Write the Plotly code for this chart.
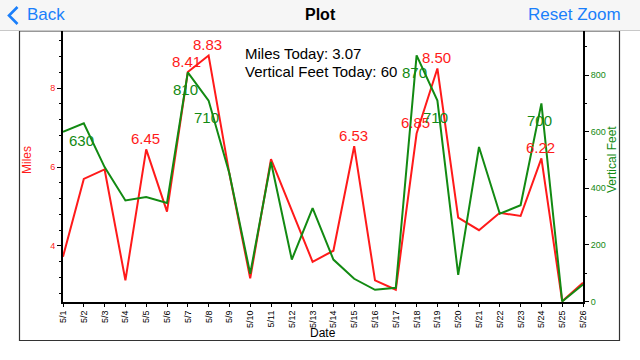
import plotly.graph_objects as go

# ---- data ----
dates = ['5/1', '5/2', '5/3', '5/4', '5/5', '5/6', '5/7', '5/8', '5/9', '5/10',
         '5/11', '5/12', '5/13', '5/14', '5/15', '5/16', '5/17', '5/18', '5/19',
         '5/20', '5/21', '5/22', '5/23', '5/24', '5/25', '5/26']
miles = [3.73, 5.70, 5.94, 3.13, 6.45, 4.87, 8.41, 8.83, 5.83, 3.18,
         6.20, 4.91, 3.60, 3.88, 6.53, 3.13, 2.89, 6.85, 8.50,
         4.72, 4.40, 4.84, 4.76, 6.22, 2.60, 3.07]
feet = [600, 630, 475, 357, 369, 348, 810, 710, 452, 98,
        493, 148, 330, 148, 80, 41, 48, 870, 710,
        94, 546, 310, 340, 700, 0, 60]
miles_labeled = [4, 6, 7, 14, 17, 18, 23]
feet_labeled = [1, 6, 7, 17, 18, 23]

RED = '#ff1a1a'
GREEN = '#128a12'
BLUE = '#1a7ffb'
FONT = 'Liberation Sans, Arial, sans-serif'

W, H = 640, 360
L, R, T, B = 63, 57, 31, 58
PW, PH = W - L - R, H - T - B


def px(x):
    return (x - L) / PW


def py(y):
    return (H - B - y) / PH


xs = list(range(len(dates)))

fig = go.Figure()
fig.add_trace(go.Scatter(x=xs, y=miles, mode='lines', line=dict(color=RED, width=2),
                         yaxis='y', showlegend=False))
fig.add_trace(go.Scatter(x=xs, y=feet, mode='lines', line=dict(color=GREEN, width=2),
                         yaxis='y2', showlegend=False))

ann = []
for i in miles_labeled:
    ann.append(dict(x=xs[i], y=miles[i], xref='x', yref='y', text=f"{miles[i]:.2f}",
                    showarrow=False, yshift=11, xshift=-1, xanchor='center', yanchor='middle',
                    font=dict(color=RED, size=15, family=FONT)))
for i in feet_labeled:
    ann.append(dict(x=xs[i], y=feet[i], xref='x', yref='y2', text=f"{feet[i]}",
                    showarrow=False, yshift=-17, xshift=-2, xanchor='center', yanchor='middle',
                    font=dict(color=GREEN, size=15, family=FONT)))


def paper_text(x, y, text, color, size, xanchor='center', angle=0):
    return dict(x=px(x), y=py(y), xref='paper', yref='paper', text=text,
                xanchor=xanchor, yanchor='middle', textangle=angle, showarrow=False,
                font=dict(color=color, size=size, family=FONT))


ann.append(paper_text(243, 54, f"Miles Today: {miles[-1]:.2f}", 'black', 15, 'left'))
ann.append(paper_text(243, 72, f"Vertical Feet Today: {feet[-1]}", 'black', 15, 'left'))
# axis titles
ann.append(paper_text(27, 160, 'Miles', RED, 12, angle=-90))
ann.append(paper_text(612, 160, 'Vertical Feet', GREEN, 12, angle=-90))
ann.append(paper_text(323, 333, 'Date', 'black', 12))
# nav bar texts
ann.append(paper_text(320, 15, '<b>Plot</b>', 'black', 16))
ann.append(paper_text(25, 15, 'Back', BLUE, 17, 'left'))
ann.append(paper_text(623, 15, 'Reset Zoom', BLUE, 17, 'right'))

shapes = [
    # nav bar
    dict(type='rect', xref='paper', yref='paper', x0=px(0), x1=px(640), y0=py(30.5), y1=py(0),
         fillcolor='#f6f6f6', line=dict(width=0), layer='below'),
    dict(type='line', xref='paper', yref='paper', x0=px(0), x1=px(640), y0=py(30.5), y1=py(30.5),
         line=dict(color='#c8c8c8', width=1)),
    # frame
    dict(type='rect', xref='paper', yref='paper', x0=px(19.5), x1=px(619.5), y0=py(340.5), y1=py(31),
         line=dict(color='#333333', width=1.2), layer='below'),
    # back chevron
    dict(type='path', xref='paper', yref='paper',
         path=f"M {px(17.5)} {py(7)} L {px(9)} {py(15.5)} L {px(17.5)} {py(24)}",
         line=dict(color=BLUE, width=2.6)),
]

fig.update_layout(
    width=W, height=H,
    margin=dict(l=L, r=R, t=T, b=B, pad=0),
    paper_bgcolor='white', plot_bgcolor='white',
    font=dict(family=FONT),
    annotations=ann, shapes=shapes, showlegend=False,
    xaxis=dict(range=[0, 25], tickmode='array', tickvals=xs, ticktext=dates,
               tickangle=-90, ticks='outside', ticklen=3, tickcolor='black', tickwidth=1,
               showline=True, linecolor='black', linewidth=2, showgrid=False, zeroline=False,
               tickfont=dict(size=9, color='black', family=FONT)),
    yaxis=dict(range=[2.58, 9.45], tick0=0, dtick=2, ticks='outside', ticklen=4,
               tickcolor='black', tickwidth=1, showline=True, linecolor='black', linewidth=2,
               showgrid=False, zeroline=False,
               minor=dict(dtick=0.4, tick0=0, ticks='outside', ticklen=2, tickcolor='black', showgrid=False),
               tickfont=dict(size=9, color=RED, family=FONT)),
    yaxis2=dict(range=[-2, 956], overlaying='y', side='right', tick0=0, dtick=200,
                ticks='outside', ticklen=4, tickcolor='black', tickwidth=1,
                showline=True, linecolor='black', linewidth=2, showgrid=False, zeroline=False,
                minor=dict(dtick=100, tick0=0, ticks='outside', ticklen=2, tickcolor='black', showgrid=False),
                tickfont=dict(size=9, color=GREEN, family=FONT)),
)

fig.write_html("out.html", config={'displayModeBar': False},
               post_script="document.body.style.margin='0';document.body.style.overflow='hidden';")
